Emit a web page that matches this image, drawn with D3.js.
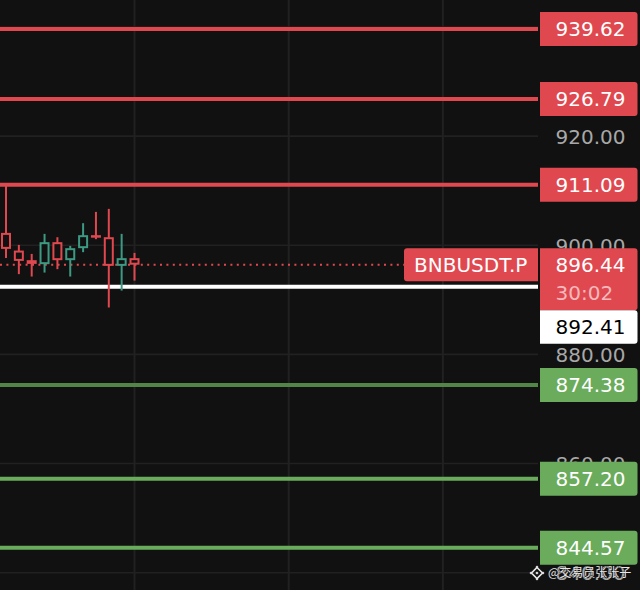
<!DOCTYPE html>
<html>
<head>
<meta charset="utf-8">
<script src="https://cdn.jsdelivr.net/npm/d3@7/dist/d3.min.js"></script>
<style>
  html, body { margin: 0; padding: 0; background: #111111; }
  svg { display: block; }
</style>
</head>
<body>
<svg id="chart" width="640" height="590"></svg>
<script>
// ---- data ----
const symbol = "BNBUSDT.P";
const countdown = "30:02";
const candleOpen  = [902.27, 899.03, 897.27, 896.54, 900.57, 897.27, 899.47, 901.85, 901.48, 896.23, 897.64];
const candleClose = [899.34, 897.14, 896.59, 900.57, 897.27, 899.47, 901.85, 901.48, 896.23, 897.64, 896.44];
const candleHigh  = [911.09, 900.07, 898.42, 902.09, 901.48, 899.89, 904.05, 906.12, 906.67, 902.09, 898.60];
const candleLow   = [897.69, 894.71, 894.27, 895.00, 895.62, 894.27, 898.74, 901.12, 888.60, 891.70, 893.53];
const levelValues = [939.62, 926.79, 911.09, 874.38, 857.20, 844.57];
const levelKinds  = ["resistance", "resistance", "resistance", "support-dark", "support", "support"];
const lastPrice = 896.44;
const markPrice = 892.41;
const gridTicks = [940, 920, 900, 880, 860, 840];
const labelTicks = [920, 900, 880, 860, 840];
const timeGridIndex = [10, 22, 34];
const watermark = "@交易员张张子";

// ---- styles ----
const W = 640, H = 590;
const plotRight = 538;
const BG = "#111111";
const RED = "#e0484f";
const GREEN = "#6aab5c";
const GREEN_DARK = "#518648";
const TEAL = "#3c9a83";
const GRID = "#212121";
const FONT = "'DejaVu Sans', sans-serif";

const svg = d3.select("#chart");
svg.append("rect").attr("width", W).attr("height", H).attr("fill", BG);

const y = d3.scaleLinear().domain([840, 940]).range([572.7, 27]);
const x = d3.scaleLinear().domain([0, 34]).range([6, 442.9]);

// gridlines
const grid = svg.append("g");
grid.selectAll("line.h").data(gridTicks).join("line")
  .attr("x1", 0).attr("x2", plotRight)
  .attr("y1", d => y(d)).attr("y2", d => y(d))
  .attr("stroke", GRID).attr("stroke-width", 1.6);
grid.selectAll("line.v").data(timeGridIndex).join("line")
  .attr("x1", d => x(d)).attr("x2", d => x(d))
  .attr("y1", 0).attr("y2", H)
  .attr("stroke", GRID).attr("stroke-width", 2);

// price axis labels
const axis = d3.axisRight(y).tickValues(labelTicks).tickFormat(d3.format(".2f")).tickSize(0).tickPadding(0);
const axG = svg.append("g").attr("transform", "translate(555.5,0)").call(axis);
axG.select(".domain").remove();
axG.selectAll("text").attr("fill", "#a8a8a8").attr("font-family", FONT).attr("font-size", 20)
  .attr("dy", "0.36em");

// level lines
const levelColor = k => k === "resistance" ? RED : (k === "support-dark" ? GREEN_DARK : GREEN);
const labelColor = k => k === "resistance" ? RED : GREEN;
svg.append("g").selectAll("line").data(levelValues).join("line")
  .attr("x1", 0).attr("x2", plotRight)
  .attr("y1", d => y(d)).attr("y2", d => y(d))
  .attr("stroke", (d, i) => levelColor(levelKinds[i])).attr("stroke-width", 4);

// mark price line (white)
svg.append("line").attr("x1", 0).attr("x2", plotRight)
  .attr("y1", y(markPrice)).attr("y2", y(markPrice))
  .attr("stroke", "#ffffff").attr("stroke-width", 4);

// last price dotted line
svg.append("line").attr("x1", 0).attr("x2", 404)
  .attr("y1", y(lastPrice)).attr("y2", y(lastPrice))
  .attr("stroke", RED).attr("stroke-width", 2).attr("stroke-dasharray", "2,4.4");

// candles
const idx = d3.range(candleOpen.length);
const cg = svg.append("g");
const cColor = i => candleClose[i] >= candleOpen[i] ? TEAL : RED;
cg.selectAll("line").data(idx).join("line")
  .attr("x1", i => x(i)).attr("x2", i => x(i))
  .attr("y1", i => y(candleHigh[i])).attr("y2", i => y(candleLow[i]))
  .attr("stroke", cColor).attr("stroke-width", 2);
cg.selectAll("rect").data(idx).join("rect")
  .attr("x", i => x(i) - 4)
  .attr("width", 8)
  .attr("y", i => y(Math.max(candleOpen[i], candleClose[i])) + 1)
  .attr("height", i => Math.max(0.5, Math.abs(y(candleOpen[i]) - y(candleClose[i])) - 2))
  .attr("fill", BG).attr("stroke", cColor).attr("stroke-width", 2);

// label box helper: rounded on one side
function boxPath(x0, y0, w, h, r, side) {
  if (side === "right") {
    return `M${x0},${y0}H${x0 + w - r}Q${x0 + w},${y0} ${x0 + w},${y0 + r}V${y0 + h - r}Q${x0 + w},${y0 + h} ${x0 + w - r},${y0 + h}H${x0}Z`;
  }
  return `M${x0 + w},${y0}V${y0 + h}H${x0 + r}Q${x0},${y0 + h} ${x0},${y0 + h - r}V${y0 + r}Q${x0},${y0} ${x0 + r},${y0}Z`;
}

const labels = svg.append("g");
levelValues.forEach((v, i) => {
  const cy = y(v);
  labels.append("path").attr("d", boxPath(540, cy - 17, 97.5, 34, 3, "right"))
    .attr("fill", labelColor(levelKinds[i]));
  labels.append("text").attr("x", 555.5).attr("y", cy).attr("dy", "0.36em")
    .attr("fill", "#ffffff").attr("font-family", FONT).attr("font-size", 20)
    .text(d3.format(".2f")(v));
});

// last price box (two rows)
const ly = y(lastPrice);
labels.append("path").attr("d", boxPath(540, ly - 16.5, 97.5, 62, 3, "right")).attr("fill", RED);
labels.append("text").attr("x", 555.5).attr("y", ly).attr("dy", "0.36em")
  .attr("fill", "#ffffff").attr("font-family", FONT).attr("font-size", 20)
  .text(d3.format(".2f")(lastPrice));
labels.append("text").attr("x", 555.5).attr("y", ly + 28).attr("dy", "0.36em")
  .attr("fill", "#f6b9bc").attr("font-family", FONT).attr("font-size", 20)
  .text(countdown);

// symbol tag
labels.append("path").attr("d", boxPath(404, ly - 16.5, 134, 33, 3, "left")).attr("fill", RED);
labels.append("text").attr("x", 414).attr("y", ly).attr("dy", "0.36em")
  .attr("fill", "#ffffff").attr("font-family", FONT).attr("font-size", 20)
  .text(symbol);

// mark price box (pushed below the last price box)
const mTop = ly + 45.5;
labels.append("path").attr("d", boxPath(540, mTop, 97.5, 33.5, 3, "right")).attr("fill", "#ffffff");
labels.append("text").attr("x", 555.5).attr("y", mTop + 17).attr("dy", "0.36em")
  .attr("fill", "#000000").attr("font-family", FONT).attr("font-size", 20)
  .text(d3.format(".2f")(markPrice));

// watermark
const wm = svg.append("g").attr("transform", "translate(537,573)");
const dia = (cx, cy, s) => `M${cx},${cy - s}L${cx + s},${cy}L${cx},${cy + s}L${cx - s},${cy}Z`;
wm.append("path").attr("d", dia(0, 0, 5.5)).attr("fill", "none").attr("stroke", "#e6e6e6").attr("stroke-width", 1.6);
wm.append("path").attr("d", dia(0, 0, 1.6)).attr("fill", "#e6e6e6");
[[0, -6], [6, 0], [0, 6], [-6, 0]].forEach(p => wm.append("path").attr("d", dia(p[0], p[1], 1.5)).attr("fill", "#e6e6e6"));
svg.append("text").attr("x", 548).attr("y", 573).attr("dy", "0.36em")
  .attr("fill", "#e8e8e8").attr("font-family", "'Noto Sans CJK SC', sans-serif").attr("font-size", 12)
  .attr("stroke", "#111").attr("stroke-width", 0.6).attr("paint-order", "stroke")
  .text(watermark);
</script>
</body>
</html>
